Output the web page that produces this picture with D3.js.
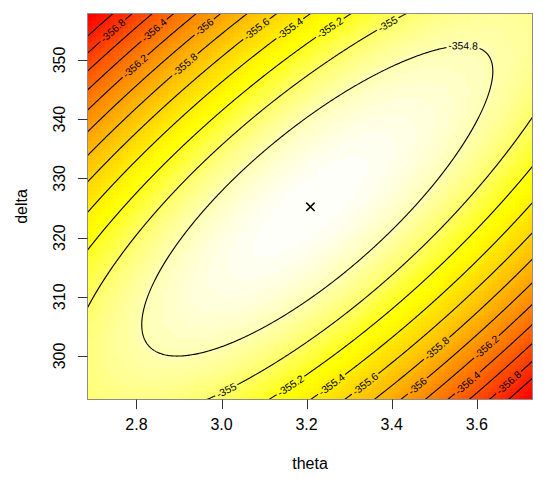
<!DOCTYPE html>
<html><head><meta charset="utf-8">
<script src="https://cdn.jsdelivr.net/npm/d3@7"></script>
<style>html,body{margin:0;padding:0;background:#fff;} svg{display:block;}</style>
</head><body>
<svg id="chart" width="550" height="482"></svg>
<script>
// ---------------- data ----------------
const thetaRange = [2.685, 3.731];            // plotted window, theta
const deltaRange = [292.65, 357.85];          // plotted window, delta
const mle = [3.209, 325.2];                    // maximum (marked with x)
const peakLogLik = -354.6;                     // log-likelihood at the maximum
const shape = [1.041, -0.806, 1.0];            // tilt/elongation of the contours (window-scaled units)
const dropScale = 0.801, dropPower = 0.93;     // how fast the surface falls away from the peak
const ridgeStretch = 0.16, ridgeWidth = 0.15;  // slower fall-off along the ridge towards high theta/delta
const contourLevels = [-357, -356.8, -356.6, -356.4, -356.2, -356, -355.8, -355.6, -355.4, -355.2, -355, -354.8];
const thetaTicks = [2.8, 3.0, 3.2, 3.4, 3.6];
const deltaTicks = [300, 310, 320, 330, 340, 350];
const xTitle = "theta", yTitle = "delta";
const nColors = 100;
const imageCells = [100, 100];

// ---------------- surface ----------------
const halfT = (thetaRange[1] - thetaRange[0]) / 2, halfD = (deltaRange[1] - deltaRange[0]) / 2;
function loglik(th, de) {
  const u = (th - mle[0]) / halfT, v = (de - mle[1]) / halfD;
  let q = shape[0] * u * u + 2 * shape[1] * u * v + shape[2] * v * v;
  const s = (u + v) / Math.SQRT2, t = (v - u) / Math.SQRT2;
  if (s > 0) q /= (1 + ridgeStretch * s * s * Math.exp(-t * t / ridgeWidth));
  return peakLogLik - dropScale * Math.pow(Math.max(q, 0), dropPower);
}

// ---------------- layout ----------------
const m = {left: 87.5, right: 532.5, top: 13.5, bottom: 399.5};
const cw = m.right - m.left, ch = m.bottom - m.top;
const x = d3.scaleLinear().domain(thetaRange).range([m.left, m.right]);
const y = d3.scaleLinear().domain(deltaRange).range([m.bottom, m.top]);
const fontFamily = '"Liberation Sans", Arial, Helvetica, sans-serif';
const svg = d3.select('#chart');

// ---------------- heat colours (R heat.colors) ----------------
function heatColors(n) {
  const j = Math.floor(n / 4), i = n - j, out = [];
  for (let k = 0; k < i; k++) {
    const h = i > 1 ? (k / (i - 1)) / 6 : 0;
    out.push([255, Math.round(255 * 6 * h), 0]);
  }
  for (let k = 0; k < j; k++) {
    const s0 = 1 - 1 / (2 * j), s1 = 1 / (2 * j);
    const s = j > 1 ? s0 + k * (s1 - s0) / (j - 1) : s1;
    out.push([255, 255, Math.round(255 * (1 - s))]);
  }
  return out;
}

// ---------------- image ----------------
(function drawImage() {
  const [ncx, ncy] = imageCells;
  const vals = new Float64Array(ncx * ncy);
  let zmin = Infinity, zmax = -Infinity;
  for (let j = 0; j < ncy; j++) for (let i = 0; i < ncx; i++) {
    const th = x.invert(m.left + (i + 0.5) / ncx * cw);
    const de = y.invert(m.top + (j + 0.5) / ncy * ch);
    const z = loglik(th, de);
    vals[j * ncx + i] = z;
    if (z < zmin) zmin = z; if (z > zmax) zmax = z;
  }
  const pal = heatColors(nColors);
  const cvs = document.createElement('canvas');
  cvs.width = ncx; cvs.height = ncy;
  const ctx = cvs.getContext('2d');
  const img = ctx.createImageData(ncx, ncy);
  for (let k = 0; k < vals.length; k++) {
    const idx = Math.max(0, Math.min(nColors - 1, Math.floor((vals[k] - zmin) / (zmax - zmin) * nColors)));
    const col = pal[idx];
    img.data[4 * k] = col[0]; img.data[4 * k + 1] = col[1]; img.data[4 * k + 2] = col[2]; img.data[4 * k + 3] = 255;
  }
  ctx.putImageData(img, 0, 0);
  svg.append('image')
    .attr('x', m.left).attr('y', m.top).attr('width', cw).attr('height', ch)
    .attr('preserveAspectRatio', 'none')
    .attr('href', cvs.toDataURL())
    .style('image-rendering', 'pixelated');
})();

// ---------------- contours ----------------
const step = 1.25, pad = 5;
const gx0 = m.left - pad, gy0 = m.top - pad;
const gnx = Math.ceil((cw + 2 * pad) / step), gny = Math.ceil((ch + 2 * pad) / step);
const grid = new Float64Array(gnx * gny);
for (let j = 0; j < gny; j++) for (let i = 0; i < gnx; i++) {
  grid[j * gnx + i] = loglik(x.invert(gx0 + (i + 0.5) * step), y.invert(gy0 + (j + 0.5) * step));
}
const contourGeoms = d3.contours().size([gnx, gny]).thresholds(contourLevels)(grid);

const eps = 0.01;
const inside = p => p[0] >= m.left - eps && p[0] <= m.right + eps && p[1] >= m.top - eps && p[1] <= m.bottom + eps;
function edgePoint(P, Q) {
  const dx = Q[0] - P[0], dy = Q[1] - P[1];
  let t = 1;
  if (dx > 0) t = Math.min(t, (m.right - P[0]) / dx);
  if (dx < 0) t = Math.min(t, (m.left - P[0]) / dx);
  if (dy > 0) t = Math.min(t, (m.bottom - P[1]) / dy);
  if (dy < 0) t = Math.min(t, (m.top - P[1]) / dy);
  t = Math.max(0, t);
  return [P[0] + t * dx, P[1] + t * dy];
}
function splitRing(ring) {
  const pts = ring.map(([X, Y]) => [gx0 + X * step, gy0 + Y * step]);
  const last = pts[pts.length - 1];
  if (pts.length > 1 && last[0] === pts[0][0] && last[1] === pts[0][1]) pts.pop();
  const n = pts.length;
  const s0 = pts.findIndex(p => !inside(p));
  if (s0 < 0) return [{pts: pts.concat([pts[0]]), closed: true}];
  const pieces = []; let cur = null;
  for (let k = 1; k <= n; k++) {
    const p = pts[(s0 + k) % n], prev = pts[(s0 + k - 1) % n];
    const pin = inside(p), prevIn = inside(prev);
    if (pin) {
      if (!prevIn) cur = [edgePoint(p, prev)];
      cur.push(p);
    } else if (prevIn && cur) {
      cur.push(edgePoint(prev, p));
      pieces.push({pts: cur, closed: false});
      cur = null;
    }
  }
  return pieces.filter(pc => pc.pts.length >= 2);
}

// arc helpers
function arcLengths(pts) {
  const L = [0];
  for (let k = 1; k < pts.length; k++) L.push(L[k - 1] + Math.hypot(pts[k][0] - pts[k - 1][0], pts[k][1] - pts[k - 1][1]));
  return L;
}
function pointAt(pts, L, s) {
  if (s <= 0) return pts[0].slice();
  const tot = L[L.length - 1];
  if (s >= tot) return pts[pts.length - 1].slice();
  let lo = 0, hi = L.length - 1;
  while (hi - lo > 1) { const mid = (lo + hi) >> 1; if (L[mid] <= s) lo = mid; else hi = mid; }
  const seg = L[hi] - L[lo], f = seg > 0 ? (s - L[lo]) / seg : 0;
  return [pts[lo][0] + f * (pts[hi][0] - pts[lo][0]), pts[lo][1] + f * (pts[hi][1] - pts[lo][1])];
}
function subPath(pts, L, s0, s1) {
  const out = [pointAt(pts, L, s0)];
  for (let k = 0; k < pts.length; k++) if (L[k] > s0 && L[k] < s1) out.push(pts[k]);
  out.push(pointAt(pts, L, s1));
  return out;
}

// labels
const labelSize = 10.4;
const mctx = document.createElement('canvas').getContext('2d');
mctx.font = `${labelSize}px ${fontFamily}`;
const labelH = labelSize * 0.72;
const placed = [];
const boxPad = 2.0, edgeGap = 11, endGap = 8, lineGap = 2, jump = 55;
function makeBox(c, p1, p2, w) {
  let ang = Math.atan2(p2[1] - p1[1], p2[0] - p1[0]);
  if (ang > Math.PI / 2) ang -= Math.PI;
  if (ang < -Math.PI / 2) ang += Math.PI;
  const co = Math.abs(Math.cos(ang)), si = Math.abs(Math.sin(ang));
  const hw = (w * co + labelH * si) / 2, hh = (w * si + labelH * co) / 2;
  return {cx: c[0], cy: c[1], ang, x0: c[0] - hw, x1: c[0] + hw, y0: c[1] - hh, y1: c[1] + hh};
}
function boxOK(b) {
  if (b.x0 < m.left || b.x1 > m.right || b.y0 < m.top || b.y1 > m.bottom) return false;
  for (const o of placed) {
    if (b.x0 - boxPad < o.x1 + boxPad && b.x1 + boxPad > o.x0 - boxPad &&
        b.y0 - boxPad < o.y1 + boxPad && b.y1 + boxPad > o.y0 - boxPad) return false;
  }
  return true;
}

const lineLayer = svg.append('g').attr('fill', 'none').attr('stroke', '#000').attr('stroke-width', 1.1)
  .attr('stroke-linejoin', 'round').attr('stroke-linecap', 'butt');
const labelLayer = svg.append('g').attr('font-family', fontFamily).attr('font-size', labelSize).attr('fill', '#000');
const lineGen = d3.line();

function drawLabel(b, text) {
  labelLayer.append('text').attr('text-anchor', 'middle').attr('dy', '0.35em')
    .attr('transform', `translate(${b.cx},${b.cy}) rotate(${b.ang * 180 / Math.PI})`)
    .text(text);
}

const byLevel = new Map(contourGeoms.map(g => [g.value, g]));
const order = contourLevels.slice().sort((p, q) => q - p); // highest first
for (const level of order) {
  const geom = byLevel.get(level);
  if (!geom) continue;
  const text = String(level);
  const w = mctx.measureText(text).width;
  const pieces = [];
  geom.coordinates.forEach(poly => poly.forEach(ring => splitRing(ring).forEach(pc => pieces.push(pc))));
  for (const pc of pieces) {
    let pts = pc.pts;
    if (!pc.closed) {
      const dEdge = p => Math.min(Math.abs(p[1] - m.top), Math.abs(p[1] - m.bottom));
      if (dEdge(pts[pts.length - 1]) < dEdge(pts[0])) pts = pts.slice().reverse();
      const L = arcLengths(pts), tot = L[L.length - 1];
      const at = sc => makeBox(pointAt(pts, L, sc), pointAt(pts, L, sc - w / 2), pointAt(pts, L, sc + w / 2), w);
      const first = edgeGap + w / 2, lastPos = tot - w / 2 - endGap;
      let found = null;
      if (first <= lastPos) {
        const b0 = at(first);
        if (boxOK(b0)) found = {sc: first, b: b0};
        else {
          for (let sc = first + jump; sc <= lastPos; sc += 1) {
            const b = at(sc);
            if (boxOK(b)) { found = {sc, b}; break; }
          }
        }
      }
      if (found) {
        placed.push(found.b);
        const a = found.sc - w / 2 - lineGap, e = found.sc + w / 2 + lineGap;
        lineLayer.append('path').attr('d', lineGen(subPath(pts, L, 0, a)));
        lineLayer.append('path').attr('d', lineGen(subPath(pts, L, e, tot)));
        drawLabel(found.b, text);
      } else {
        lineLayer.append('path').attr('d', lineGen(pts));
      }
    } else {
      // closed ring: start at its topmost point
      const ring = pts.slice(0, -1);
      let top = 0;
      ring.forEach((p, k) => { if (p[1] < ring[top][1]) top = k; });
      const rot = ring.slice(top).concat(ring.slice(0, top));
      const closedPts = rot.concat([rot[0]]);
      const L1 = arcLengths(closedPts), tot = L1[L1.length - 1];
      const dbl = closedPts.concat(closedPts.slice(1));
      const L2 = arcLengths(dbl);
      const P = s => pointAt(dbl, L2, ((s % tot) + tot) % tot);
      let found = null;
      for (let sc = 0; sc < tot; sc += 1) {
        const b = makeBox(P(sc), P(sc - w / 2), P(sc + w / 2), w);
        if (boxOK(b)) { found = {sc, b}; break; }
      }
      if (found) {
        placed.push(found.b);
        const sA = (((found.sc + w / 2 + lineGap) % tot) + tot) % tot;
        const sB = sA + tot - (w + 2 * lineGap);
        lineLayer.append('path').attr('d', lineGen(subPath(dbl, L2, sA, sB)));
        drawLabel(found.b, text);
      } else {
        lineLayer.append('path').attr('d', lineGen(closedPts));
      }
    }
  }
}

// ---------------- MLE marker ----------------
const mx = x(mle[0]), my = y(mle[1]), r = 4.2;
svg.append('path')
  .attr('d', `M${mx - r},${my - r}L${mx + r},${my + r}M${mx - r},${my + r}L${mx + r},${my - r}`)
  .attr('stroke', '#000').attr('stroke-width', 1.5).attr('fill', 'none');

// ---------------- frame and axes ----------------
svg.append('rect').attr('x', m.left).attr('y', m.top).attr('width', cw).attr('height', ch)
  .attr('fill', 'none').attr('stroke', '#8c8c8c').attr('stroke-width', 1);

const tickLen = 9.6;
const axisG = svg.append('g').attr('font-family', fontFamily).attr('font-size', 16).attr('fill', '#000');
axisG.selectAll('line.xt').data(thetaTicks).join('line').attr('class', 'xt')
  .attr('x1', d => Math.round(x(d)) + 0.5).attr('x2', d => Math.round(x(d)) + 0.5)
  .attr('y1', m.bottom).attr('y2', m.bottom + tickLen)
  .attr('stroke', '#333').attr('stroke-width', 1);
axisG.selectAll('text.xl').data(thetaTicks).join('text').attr('class', 'xl')
  .attr('x', d => x(d)).attr('y', 430).attr('text-anchor', 'middle')
  .text(d => d.toFixed(1));
axisG.selectAll('line.yt').data(deltaTicks).join('line').attr('class', 'yt')
  .attr('y1', d => Math.round(y(d)) + 0.5).attr('y2', d => Math.round(y(d)) + 0.5)
  .attr('x1', m.left).attr('x2', m.left - tickLen)
  .attr('stroke', '#333').attr('stroke-width', 1);
axisG.selectAll('text.yl').data(deltaTicks).join('text').attr('class', 'yl')
  .attr('transform', d => `translate(65,${y(d)}) rotate(-90)`).attr('text-anchor', 'middle')
  .text(d => String(d));
axisG.append('text').attr('x', (m.left + m.right) / 2).attr('y', 468.5).attr('text-anchor', 'middle').text(xTitle);
axisG.append('text').attr('transform', `translate(27,${(m.top + m.bottom) / 2}) rotate(-90)`)
  .attr('text-anchor', 'middle').text(yTitle);
</script>
</body></html>
